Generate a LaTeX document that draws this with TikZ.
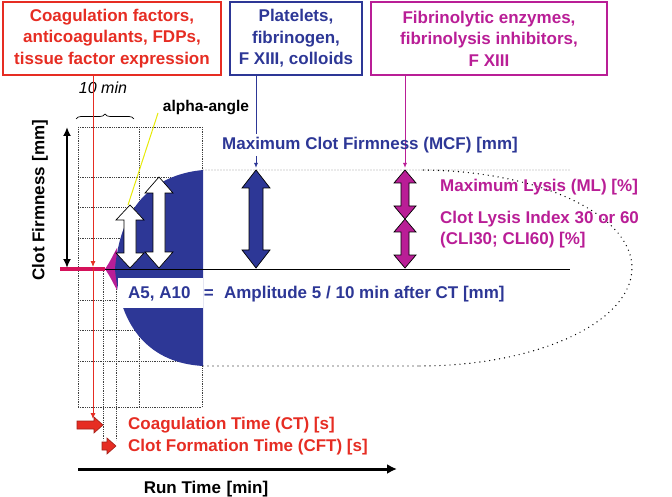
\documentclass[tikz,border=0pt]{standalone}
\usepackage{fontspec}
\setmainfont{Liberation Sans}
\usetikzlibrary{arrows.meta,decorations.pathreplacing}
\definecolor{cblue}{RGB}{45,55,150}
\definecolor{cmag}{RGB}{185,30,150}
\definecolor{cred}{RGB}{230,45,35}
% \darr{x}{top}{bottom}{half shaft}{half head}{head length}{fill}
\newcommand\darr[7]{\draw[line width=0.7pt,fill=#7] (#1,#2) -- (#1+#5,#2+#6) -- (#1+#4,#2+#6) -- (#1+#4,#3-#6) -- (#1+#5,#3-#6) -- (#1,#3) -- (#1-#5,#3-#6) -- (#1-#4,#3-#6) -- (#1-#4,#2+#6) -- (#1-#5,#2+#6) -- cycle;}
% \rarr{x0}{x1}{y}
\newcommand\rarr[3]{\draw[line width=0.6pt,fill=cred,draw=cred!70!black] (#1,#3-4) -- (#2-9,#3-4) -- (#2-9,#3-8) -- (#2,#3) -- (#2-9,#3+8) -- (#2-9,#3+4) -- (#1,#3+4) -- cycle;}
\begin{document}
\begin{tikzpicture}[x=1pt,y=-1pt,
 lbl/.style={font=\bfseries\fontsize{17}{21}\selectfont,inner sep=0pt},
 box/.style={draw,line width=1.2pt,align=center,font=\bfseries\fontsize{17}{21.5}\selectfont},
 gridl/.style={densely dotted,line width=0.8pt,black!75}]
\useasboundingbox (0,0) rectangle (672,497);
% grid
\foreach \y in {127,177,207,238,300,330,361,407} \draw[gridl] (78,\y)--(202,\y);
\foreach \x in {78,139,202} \draw[gridl] (\x,127)--(\x,407);
\draw[gridl] (103,269)--(103,440);
\draw[gridl] (116,269)--(116,440);
% blue clot
\fill[cmag] (105,269) .. controls (110,262) and (113,255) .. (117,248) -- (117,290) .. controls (113,283) and (110,276) .. (105,269) -- cycle;
\fill[cblue] (115,269) .. controls (120,210) and (150,175) .. (203,170) -- (203,269) -- cycle;
\fill[cblue] (115,269) .. controls (120,328) and (150,363) .. (203,366) -- (203,269) -- cycle;
\fill[white] (118,278) rectangle (203,308);
% ellipse
\draw[line width=1.4pt,line cap=round,dash pattern=on 0pt off 5pt] (203,366) -- (420,366) plot[smooth,domain=90:-90,samples=40] ({420+212*cos(\x)},{268+98*sin(\x)});
\draw[line width=0.7pt,line cap=round,dash pattern=on 0pt off 3pt] (203,170) -- (570,170);
% baseline
\draw[line width=1pt] (78,269) -- (570,269);
\draw[line width=3.5pt,cmag!60!red] (60,269) -- (105,269);
% left arrow
\draw[line width=1.8pt,{Latex[length=9pt,width=8pt]}-{Latex[length=9pt,width=8pt]}] (67,127) -- (67,268);
\node[rotate=90,lbl] (cf) at (40,200) {Clot Firmness\,\,[mm]};
% double arrows
\darr{130}{205}{268}{6}{14}{15}{white}
\darr{159}{177}{268}{6}{14}{16}{white}
\darr{256}{170}{268}{7}{14}{18}{cblue}
\darr{405}{170}{219}{4}{11}{13}{cmag}
\darr{405}{219}{268}{4}{11}{13}{cmag}
% alpha
\node[lbl,font=\bfseries\fontsize{15.5}{18}\selectfont] (al) at (206,108) {alpha-angle};
\draw[yellow!90!green,line width=1pt] (158,113) -- (128,205);
\draw[decorate,decoration={brace,amplitude=5pt},line width=0.7pt] (76,119) -- (134,119);
\node[font=\itshape\fontsize{16}{18}\selectfont,inner sep=0pt] (tm) at (103,88) {10 min};
% boxes
\node[box,draw=cred,text=cred,minimum width=218pt,minimum height=73pt] (rb) at (112,38.5) {Coagulation factors,\\anticoagulants, FDPs,\\tissue factor expression};
\node[box,draw=cblue,text=cblue,minimum width=132pt,minimum height=73pt] (bb) at (296,38.5) {Platelets,\\fibrinogen,\\F XIII, colloids};
\node[box,draw=cmag,text=cmag,minimum width=236pt,minimum height=73pt] (mb) at (489,38.5) {Fibrinolytic enzymes,\\fibrinolysis inhibitors,\\F XIII};
\coordinate (ct1) at (93,267);
\coordinate (ct2) at (93,419);
\draw[cred,line width=0.9pt,-{Latex[length=6pt,width=5pt]}] (rb.south -| ct1) -- (ct1);
\draw[cred,line width=0.9pt,-{Latex[length=6pt,width=5pt]}] (ct1) -- (ct2);
\coordinate (mcf) at (256,168);
\coordinate (mlt) at (405,168);
\draw[cblue,line width=0.9pt] (bb.south -| mcf) -- (256,134);
\draw[cblue,line width=0.9pt,-{Latex[length=5pt,width=4pt]}] (256,156) -- (mcf);
\draw[cmag,line width=0.9pt,-{Latex[length=5pt,width=4pt]}] (mb.south -| mlt) -- (mlt);
% labels
\node[lbl,text=cblue] (mcfl) at (370,145) {Maximum Clot Firmness (MCF) [mm]};
\node[lbl,text=cmag,anchor=west] (ml) at (440,187) {Maximum Lysis (ML) [\%]};
\node[lbl,text=cmag,anchor=west,align=left] (cli) at (440,230) {Clot Lysis Index 30 or 60\\(CLI30; CLI60) [\%]};
\node[lbl,text=cblue,anchor=west] (amp) at (128,294) {A5, A10\,\,\, =\,\, Amplitude 5 / 10 min after CT [mm]};
% CT arrows
\rarr{77}{103}{425}
\rarr{102}{116}{446}
\node[lbl,text=cred,anchor=west] (ctl) at (128,425) {Coagulation Time (CT) [s]};
\node[lbl,text=cred,anchor=west] (cftl) at (128,447) {Clot Formation Time (CFT) [s]};
% run time
\draw[line width=3pt,-{Latex[length=10pt,width=10pt]}] (78,469) -- (397,469);
\node[lbl] (rt) at (206,489) {Run Time\,\,[min]};
\end{tikzpicture}
\end{document}
